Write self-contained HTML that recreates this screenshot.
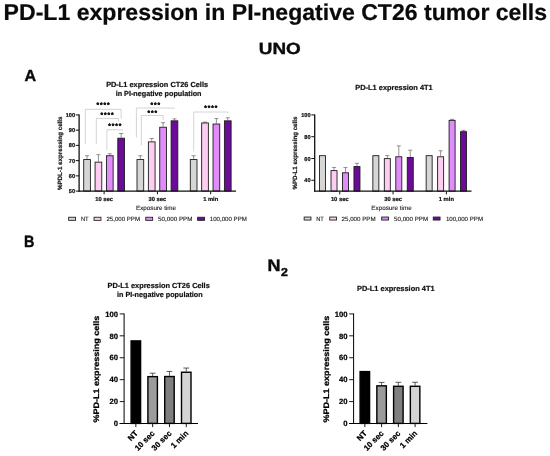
<!DOCTYPE html>
<html lang="en">
<head>
<meta charset="utf-8">
<title>PD-L1 expression in PI-negative CT26 tumor cells</title>
<style>
html,body{margin:0;padding:0;background:#fff;}
body{width:550px;height:456px;overflow:hidden;}
svg{display:block;font-family:"Liberation Sans", Arial, Helvetica, sans-serif;filter:blur(0.3px);text-rendering:geometricPrecision;}
</style>
</head>
<body>
<svg width="550" height="456" viewBox="0 0 550 456">
<rect x="0" y="0" width="550" height="456" fill="#ffffff"/>
<text x="3.6" y="20.4" font-size="22.9" font-weight="bold" text-anchor="start" fill="#0a0a0a" textLength="543.5" lengthAdjust="spacingAndGlyphs" stroke="#0a0a0a" stroke-width="0.22">PD-L1 expression in PI-negative CT26 tumor cells</text>
<text x="279.8" y="54" font-size="16.2" font-weight="bold" text-anchor="middle" fill="#0a0a0a" textLength="42.0" lengthAdjust="spacingAndGlyphs" stroke="#0a0a0a" stroke-width="0.35">UNO</text>
<text x="24.4" y="81" font-size="16" font-weight="bold" text-anchor="start" fill="#0a0a0a" textLength="11.6" lengthAdjust="spacingAndGlyphs" stroke="#0a0a0a" stroke-width="0.4">A</text>
<text x="24.0" y="247" font-size="16.4" font-weight="bold" text-anchor="start" fill="#0a0a0a" textLength="10.4" lengthAdjust="spacingAndGlyphs" stroke="#0a0a0a" stroke-width="0.4">B</text>
<text x="267.6" y="270.9" font-size="16.9" font-weight="bold" fill="#0a0a0a" stroke="#0a0a0a" stroke-width="0.4" textLength="20.3" lengthAdjust="spacingAndGlyphs">N<tspan font-size="11.6" dy="4.9" dx="0.4">2</tspan></text>
<g id="cA1">
<polyline points="85.3,144 85.3,109.3 121.2,109.3 121.2,118.8" fill="none" stroke="#bcbcbc" stroke-width="0.65"/>
<polyline points="96.3,144 96.3,118.5 118.5,118.5 118.5,121.6" fill="none" stroke="#bcbcbc" stroke-width="0.65"/>
<polyline points="106.9,150 106.9,129.8 122.6,129.8 122.6,130.5" fill="none" stroke="#bcbcbc" stroke-width="0.65"/>
<polyline points="136.4,137.5 136.4,108 174.1,108 174.1,109" fill="none" stroke="#bcbcbc" stroke-width="0.65"/>
<polyline points="141.3,145.4 141.3,115.5 163.2,115.5 163.2,120" fill="none" stroke="#bcbcbc" stroke-width="0.65"/>
<polyline points="193.7,151.5 193.7,112 227.9,112 227.9,113.2" fill="none" stroke="#bcbcbc" stroke-width="0.65"/>
<line x1="87.05" y1="159.10" x2="87.05" y2="155.74" stroke="#5a5a5a" stroke-width="0.65" />
<line x1="85.00" y1="155.74" x2="89.10" y2="155.74" stroke="#5a5a5a" stroke-width="0.65" />
<rect x="83.70" y="159.55" width="6.70" height="31.50" fill="#d6d6d6" stroke="#1c1c1c" stroke-width="0.9"/>
<line x1="98.42" y1="161.69" x2="98.42" y2="154.68" stroke="#5a5a5a" stroke-width="0.65" />
<line x1="96.37" y1="154.68" x2="100.47" y2="154.68" stroke="#5a5a5a" stroke-width="0.65" />
<rect x="95.07" y="162.14" width="6.70" height="28.91" fill="#fdcdf2" stroke="#1c1c1c" stroke-width="0.9"/>
<line x1="109.79" y1="155.29" x2="109.79" y2="153.76" stroke="#5a5a5a" stroke-width="0.65" />
<line x1="107.74" y1="153.76" x2="111.84" y2="153.76" stroke="#5a5a5a" stroke-width="0.65" />
<rect x="106.44" y="155.74" width="6.70" height="35.31" fill="#e08df9" stroke="#1c1c1c" stroke-width="0.9"/>
<line x1="121.16" y1="137.76" x2="121.16" y2="133.49" stroke="#5a5a5a" stroke-width="0.65" />
<line x1="119.11" y1="133.49" x2="123.21" y2="133.49" stroke="#5a5a5a" stroke-width="0.65" />
<rect x="117.81" y="138.21" width="6.70" height="52.84" fill="#6c0a99" stroke="#1c1c1c" stroke-width="0.9"/>
<line x1="140.35" y1="159.10" x2="140.35" y2="155.74" stroke="#5a5a5a" stroke-width="0.65" />
<line x1="138.30" y1="155.74" x2="142.40" y2="155.74" stroke="#5a5a5a" stroke-width="0.65" />
<rect x="137.00" y="159.55" width="6.70" height="31.50" fill="#d6d6d6" stroke="#1c1c1c" stroke-width="0.9"/>
<line x1="151.72" y1="141.42" x2="151.72" y2="138.52" stroke="#5a5a5a" stroke-width="0.65" />
<line x1="149.67" y1="138.52" x2="153.77" y2="138.52" stroke="#5a5a5a" stroke-width="0.65" />
<rect x="148.37" y="141.87" width="6.70" height="49.18" fill="#fdcdf2" stroke="#1c1c1c" stroke-width="0.9"/>
<line x1="163.09" y1="126.79" x2="163.09" y2="122.67" stroke="#5a5a5a" stroke-width="0.65" />
<line x1="161.04" y1="122.67" x2="165.14" y2="122.67" stroke="#5a5a5a" stroke-width="0.65" />
<rect x="159.74" y="127.24" width="6.70" height="63.81" fill="#e08df9" stroke="#1c1c1c" stroke-width="0.9"/>
<line x1="174.46" y1="120.39" x2="174.46" y2="118.86" stroke="#5a5a5a" stroke-width="0.65" />
<line x1="172.41" y1="118.86" x2="176.51" y2="118.86" stroke="#5a5a5a" stroke-width="0.65" />
<rect x="171.11" y="120.84" width="6.70" height="70.21" fill="#6c0a99" stroke="#1c1c1c" stroke-width="0.9"/>
<line x1="193.65" y1="159.10" x2="193.65" y2="155.74" stroke="#5a5a5a" stroke-width="0.65" />
<line x1="191.60" y1="155.74" x2="195.70" y2="155.74" stroke="#5a5a5a" stroke-width="0.65" />
<rect x="190.30" y="159.55" width="6.70" height="31.50" fill="#d6d6d6" stroke="#1c1c1c" stroke-width="0.9"/>
<line x1="205.02" y1="122.52" x2="205.02" y2="122.14" stroke="#5a5a5a" stroke-width="0.65" />
<line x1="202.97" y1="122.14" x2="207.07" y2="122.14" stroke="#5a5a5a" stroke-width="0.65" />
<rect x="201.67" y="122.97" width="6.70" height="68.08" fill="#fdcdf2" stroke="#1c1c1c" stroke-width="0.9"/>
<line x1="216.39" y1="123.59" x2="216.39" y2="118.56" stroke="#5a5a5a" stroke-width="0.65" />
<line x1="214.34" y1="118.56" x2="218.44" y2="118.56" stroke="#5a5a5a" stroke-width="0.65" />
<rect x="213.04" y="124.04" width="6.70" height="67.01" fill="#e08df9" stroke="#1c1c1c" stroke-width="0.9"/>
<line x1="227.76" y1="120.39" x2="227.76" y2="117.80" stroke="#5a5a5a" stroke-width="0.65" />
<line x1="225.71" y1="117.80" x2="229.81" y2="117.80" stroke="#5a5a5a" stroke-width="0.65" />
<rect x="224.41" y="120.84" width="6.70" height="70.21" fill="#6c0a99" stroke="#1c1c1c" stroke-width="0.9"/>
<line x1="79.1" y1="114.4" x2="79.1" y2="191.7" stroke="#111" stroke-width="1.3" />
<line x1="78.5" y1="191.1" x2="236.06" y2="191.1" stroke="#111" stroke-width="1.3" />
<line x1="75.69999999999999" y1="191.10" x2="79.1" y2="191.10" stroke="#111" stroke-width="1.0" />
<text x="75.0" y="193.10" font-size="5.6" font-weight="bold" text-anchor="end" fill="#111" stroke="#111" stroke-width="0.22">50</text>
<line x1="75.69999999999999" y1="175.86" x2="79.1" y2="175.86" stroke="#111" stroke-width="1.0" />
<text x="75.0" y="177.86" font-size="5.6" font-weight="bold" text-anchor="end" fill="#111" stroke="#111" stroke-width="0.22">60</text>
<line x1="75.69999999999999" y1="160.62" x2="79.1" y2="160.62" stroke="#111" stroke-width="1.0" />
<text x="75.0" y="162.62" font-size="5.6" font-weight="bold" text-anchor="end" fill="#111" stroke="#111" stroke-width="0.22">70</text>
<line x1="75.69999999999999" y1="145.38" x2="79.1" y2="145.38" stroke="#111" stroke-width="1.0" />
<text x="75.0" y="147.38" font-size="5.6" font-weight="bold" text-anchor="end" fill="#111" stroke="#111" stroke-width="0.22">80</text>
<line x1="75.69999999999999" y1="130.14" x2="79.1" y2="130.14" stroke="#111" stroke-width="1.0" />
<text x="75.0" y="132.14" font-size="5.6" font-weight="bold" text-anchor="end" fill="#111" stroke="#111" stroke-width="0.22">90</text>
<line x1="75.69999999999999" y1="114.90" x2="79.1" y2="114.90" stroke="#111" stroke-width="1.0" />
<text x="75.0" y="116.90" font-size="5.6" font-weight="bold" text-anchor="end" fill="#111" stroke="#111" stroke-width="0.22">100</text>
<line x1="104.11" y1="191.1" x2="104.11" y2="194.29999999999998" stroke="#111" stroke-width="1.0" />
<text x="104.11" y="200.7" font-size="5.8" font-weight="bold" text-anchor="middle" fill="#111" stroke="#111" stroke-width="0.22">10 sec</text>
<line x1="157.41" y1="191.1" x2="157.41" y2="194.29999999999998" stroke="#111" stroke-width="1.0" />
<text x="157.41" y="200.7" font-size="5.8" font-weight="bold" text-anchor="middle" fill="#111" stroke="#111" stroke-width="0.22">30 sec</text>
<line x1="210.70" y1="191.1" x2="210.70" y2="194.29999999999998" stroke="#111" stroke-width="1.0" />
<text x="210.70" y="200.7" font-size="5.8" font-weight="bold" text-anchor="middle" fill="#111" stroke="#111" stroke-width="0.22">1 min</text>
<text x="103.45" y="107.45" font-size="6.6" font-weight="bold" text-anchor="middle" fill="#000" letter-spacing="0.93" stroke="#000" stroke-width="0.4" stroke-linejoin="round">****</text>
<text x="107.55" y="117.2" font-size="6.6" font-weight="bold" text-anchor="middle" fill="#000" letter-spacing="0.93" stroke="#000" stroke-width="0.4" stroke-linejoin="round">****</text>
<text x="115.25" y="128.2" font-size="6.6" font-weight="bold" text-anchor="middle" fill="#000" letter-spacing="0.93" stroke="#000" stroke-width="0.4" stroke-linejoin="round">****</text>
<text x="155.85" y="106.5" font-size="6.6" font-weight="bold" text-anchor="middle" fill="#000" letter-spacing="0.93" stroke="#000" stroke-width="0.4" stroke-linejoin="round">***</text>
<text x="152.85" y="114.7" font-size="6.6" font-weight="bold" text-anchor="middle" fill="#000" letter-spacing="0.93" stroke="#000" stroke-width="0.4" stroke-linejoin="round">***</text>
<text x="211.14999999999998" y="110.3" font-size="6.6" font-weight="bold" text-anchor="middle" fill="#000" letter-spacing="0.93" stroke="#000" stroke-width="0.4" stroke-linejoin="round">****</text>
<text x="157.1" y="87.2" font-size="7.35" font-weight="bold" text-anchor="middle" fill="#111" textLength="101.9" lengthAdjust="spacingAndGlyphs" stroke="#111" stroke-width="0.22">PD-L1 expression CT26 Cells</text>
<text x="158.6" y="95.9" font-size="7.35" font-weight="bold" text-anchor="middle" fill="#111" textLength="85.8" lengthAdjust="spacingAndGlyphs" stroke="#111" stroke-width="0.22">in PI-negative population</text>
<text transform="translate(62.0,190.1) rotate(-90)" font-size="6.2" font-weight="bold" fill="#111" stroke="#111" stroke-width="0.2" textLength="73.6" lengthAdjust="spacingAndGlyphs">%PDL-1 expressing cells</text>
<text x="156" y="209.7" font-size="6.25" font-weight="normal" text-anchor="middle" fill="#222" textLength="40" lengthAdjust="spacingAndGlyphs" stroke="#222" stroke-width="0.12">Exposure time</text>
<rect x="68.65" y="217.25" width="6.90" height="3.10" fill="#d6d6d6" stroke="#222" stroke-width="0.9"/>
<text x="80.9" y="220.8" font-size="6.1" font-weight="normal" text-anchor="start" fill="#222" textLength="7.8" lengthAdjust="spacingAndGlyphs" stroke="#222" stroke-width="0.12">NT</text>
<rect x="94.05" y="217.25" width="6.90" height="3.10" fill="#fdcdf2" stroke="#222" stroke-width="0.9"/>
<text x="106.4" y="220.8" font-size="6.1" font-weight="normal" text-anchor="start" fill="#222" textLength="33.6" lengthAdjust="spacingAndGlyphs" stroke="#222" stroke-width="0.12">25,000 PPM</text>
<rect x="145.75" y="217.25" width="6.90" height="3.10" fill="#e08df9" stroke="#222" stroke-width="0.9"/>
<text x="158.1" y="220.8" font-size="6.1" font-weight="normal" text-anchor="start" fill="#222" textLength="34.3" lengthAdjust="spacingAndGlyphs" stroke="#222" stroke-width="0.12">50,000 PPM</text>
<rect x="197.65" y="217.25" width="6.90" height="3.10" fill="#6c0a99" stroke="#222" stroke-width="0.9"/>
<text x="209.8" y="220.8" font-size="6.1" font-weight="normal" text-anchor="start" fill="#222" textLength="37.1" lengthAdjust="spacingAndGlyphs" stroke="#222" stroke-width="0.12">100,000 PPM</text>
</g>
<g id="cA2">
<rect x="319.55" y="155.68" width="6.00" height="35.47" fill="#d6d6d6" stroke="#1c1c1c" stroke-width="0.9"/>
<line x1="334.02" y1="170.16" x2="334.02" y2="167.44" stroke="#5a5a5a" stroke-width="0.65" />
<line x1="331.97" y1="167.44" x2="336.07" y2="167.44" stroke="#5a5a5a" stroke-width="0.65" />
<rect x="331.02" y="170.61" width="6.00" height="20.54" fill="#fdcdf2" stroke="#1c1c1c" stroke-width="0.9"/>
<line x1="345.49" y1="172.34" x2="345.49" y2="167.55" stroke="#5a5a5a" stroke-width="0.65" />
<line x1="343.44" y1="167.55" x2="347.54" y2="167.55" stroke="#5a5a5a" stroke-width="0.65" />
<rect x="342.49" y="172.79" width="6.00" height="18.36" fill="#e08df9" stroke="#1c1c1c" stroke-width="0.9"/>
<line x1="356.96" y1="166.13" x2="356.96" y2="163.30" stroke="#5a5a5a" stroke-width="0.65" />
<line x1="354.91" y1="163.30" x2="359.01" y2="163.30" stroke="#5a5a5a" stroke-width="0.65" />
<rect x="353.96" y="166.58" width="6.00" height="24.57" fill="#6c0a99" stroke="#1c1c1c" stroke-width="0.9"/>
<rect x="372.85" y="155.68" width="6.00" height="35.47" fill="#d6d6d6" stroke="#1c1c1c" stroke-width="0.9"/>
<line x1="387.32" y1="158.17" x2="387.32" y2="155.56" stroke="#5a5a5a" stroke-width="0.65" />
<line x1="385.27" y1="155.56" x2="389.37" y2="155.56" stroke="#5a5a5a" stroke-width="0.65" />
<rect x="384.32" y="158.62" width="6.00" height="32.53" fill="#fdcdf2" stroke="#1c1c1c" stroke-width="0.9"/>
<line x1="398.79" y1="156.32" x2="398.79" y2="145.86" stroke="#5a5a5a" stroke-width="0.65" />
<line x1="396.74" y1="145.86" x2="400.84" y2="145.86" stroke="#5a5a5a" stroke-width="0.65" />
<rect x="395.79" y="156.77" width="6.00" height="34.38" fill="#e08df9" stroke="#1c1c1c" stroke-width="0.9"/>
<line x1="410.26" y1="157.08" x2="410.26" y2="150.22" stroke="#5a5a5a" stroke-width="0.65" />
<line x1="408.21" y1="150.22" x2="412.31" y2="150.22" stroke="#5a5a5a" stroke-width="0.65" />
<rect x="407.26" y="157.53" width="6.00" height="33.62" fill="#6c0a99" stroke="#1c1c1c" stroke-width="0.9"/>
<rect x="426.15" y="155.68" width="6.00" height="35.47" fill="#d6d6d6" stroke="#1c1c1c" stroke-width="0.9"/>
<line x1="440.62" y1="156.32" x2="440.62" y2="150.76" stroke="#5a5a5a" stroke-width="0.65" />
<line x1="438.57" y1="150.76" x2="442.67" y2="150.76" stroke="#5a5a5a" stroke-width="0.65" />
<rect x="437.62" y="156.77" width="6.00" height="34.38" fill="#fdcdf2" stroke="#1c1c1c" stroke-width="0.9"/>
<line x1="452.09" y1="119.91" x2="452.09" y2="119.37" stroke="#5a5a5a" stroke-width="0.65" />
<line x1="450.04" y1="119.37" x2="454.14" y2="119.37" stroke="#5a5a5a" stroke-width="0.65" />
<rect x="449.09" y="120.36" width="6.00" height="70.79" fill="#e08df9" stroke="#1c1c1c" stroke-width="0.9"/>
<line x1="463.56" y1="131.25" x2="463.56" y2="130.38" stroke="#5a5a5a" stroke-width="0.65" />
<line x1="461.51" y1="130.38" x2="465.61" y2="130.38" stroke="#5a5a5a" stroke-width="0.65" />
<rect x="460.56" y="131.70" width="6.00" height="59.45" fill="#6c0a99" stroke="#1c1c1c" stroke-width="0.9"/>
<line x1="314.7" y1="114.4" x2="314.7" y2="191.79999999999998" stroke="#111" stroke-width="1.3" />
<line x1="314.09999999999997" y1="191.2" x2="471.51" y2="191.2" stroke="#111" stroke-width="1.3" />
<line x1="311.3" y1="180.30" x2="314.7" y2="180.30" stroke="#111" stroke-width="1.0" />
<text x="310.59999999999997" y="182.30" font-size="5.6" font-weight="bold" text-anchor="end" fill="#111" stroke="#111" stroke-width="0.22">40</text>
<line x1="311.3" y1="158.50" x2="314.7" y2="158.50" stroke="#111" stroke-width="1.0" />
<text x="310.59999999999997" y="160.50" font-size="5.6" font-weight="bold" text-anchor="end" fill="#111" stroke="#111" stroke-width="0.22">60</text>
<line x1="311.3" y1="136.70" x2="314.7" y2="136.70" stroke="#111" stroke-width="1.0" />
<text x="310.59999999999997" y="138.70" font-size="5.6" font-weight="bold" text-anchor="end" fill="#111" stroke="#111" stroke-width="0.22">80</text>
<line x1="311.3" y1="114.90" x2="314.7" y2="114.90" stroke="#111" stroke-width="1.0" />
<text x="310.59999999999997" y="116.90" font-size="5.6" font-weight="bold" text-anchor="end" fill="#111" stroke="#111" stroke-width="0.22">100</text>
<line x1="339.75" y1="191.2" x2="339.75" y2="194.39999999999998" stroke="#111" stroke-width="1.0" />
<text x="339.75" y="200.79999999999998" font-size="5.8" font-weight="bold" text-anchor="middle" fill="#111" stroke="#111" stroke-width="0.22">10 sec</text>
<line x1="393.06" y1="191.2" x2="393.06" y2="194.39999999999998" stroke="#111" stroke-width="1.0" />
<text x="393.06" y="200.79999999999998" font-size="5.8" font-weight="bold" text-anchor="middle" fill="#111" stroke="#111" stroke-width="0.22">30 sec</text>
<line x1="446.36" y1="191.2" x2="446.36" y2="194.39999999999998" stroke="#111" stroke-width="1.0" />
<text x="446.36" y="200.79999999999998" font-size="5.8" font-weight="bold" text-anchor="middle" fill="#111" stroke="#111" stroke-width="0.22">1 min</text>
<text x="394" y="90" font-size="7.35" font-weight="bold" text-anchor="middle" fill="#111" textLength="77.4" lengthAdjust="spacingAndGlyphs" stroke="#111" stroke-width="0.22">PD-L1 expression 4T1</text>
<text transform="translate(297.2,189.6) rotate(-90)" font-size="6.2" font-weight="bold" fill="#111" stroke="#111" stroke-width="0.2" textLength="73" lengthAdjust="spacingAndGlyphs">%PD-L1 expressing cells</text>
<text x="391.5" y="209.9" font-size="6.25" font-weight="normal" text-anchor="middle" fill="#222" textLength="40.3" lengthAdjust="spacingAndGlyphs" stroke="#222" stroke-width="0.12">Exposure time</text>
<rect x="304.15" y="217.05" width="6.80" height="3.00" fill="#d6d6d6" stroke="#222" stroke-width="0.9"/>
<text x="316.2" y="220.6" font-size="6.1" font-weight="normal" text-anchor="start" fill="#222" textLength="7.7" lengthAdjust="spacingAndGlyphs" stroke="#222" stroke-width="0.12">NT</text>
<rect x="329.75" y="217.05" width="6.80" height="3.00" fill="#fdcdf2" stroke="#222" stroke-width="0.9"/>
<text x="341.5" y="220.6" font-size="6.1" font-weight="normal" text-anchor="start" fill="#222" textLength="34.2" lengthAdjust="spacingAndGlyphs" stroke="#222" stroke-width="0.12">25,000 PPM</text>
<rect x="381.65" y="217.05" width="6.80" height="3.00" fill="#e08df9" stroke="#222" stroke-width="0.9"/>
<text x="394.1" y="220.6" font-size="6.1" font-weight="normal" text-anchor="start" fill="#222" textLength="34.0" lengthAdjust="spacingAndGlyphs" stroke="#222" stroke-width="0.12">50,000 PPM</text>
<rect x="433.25" y="217.05" width="6.80" height="3.00" fill="#6c0a99" stroke="#222" stroke-width="0.9"/>
<text x="445.9" y="220.6" font-size="6.1" font-weight="normal" text-anchor="start" fill="#222" textLength="37.1" lengthAdjust="spacingAndGlyphs" stroke="#222" stroke-width="0.12">100,000 PPM</text>
</g>
<g id="cB1">
<rect x="131.10" y="340.90" width="9.50" height="82.50" fill="#000000" stroke="#000" stroke-width="1.4"/>
<line x1="152.65" y1="375.93" x2="152.65" y2="373.19" stroke="#333" stroke-width="0.8" />
<line x1="149.75" y1="373.19" x2="155.55" y2="373.19" stroke="#333" stroke-width="0.8" />
<rect x="147.90" y="376.63" width="9.50" height="46.77" fill="#9b9b9b" stroke="#000" stroke-width="1.4"/>
<line x1="169.45" y1="375.82" x2="169.45" y2="371.44" stroke="#333" stroke-width="0.8" />
<line x1="166.55" y1="371.44" x2="172.35" y2="371.44" stroke="#333" stroke-width="0.8" />
<rect x="164.70" y="376.52" width="9.50" height="46.88" fill="#7f7f7f" stroke="#000" stroke-width="1.4"/>
<line x1="186.25" y1="371.55" x2="186.25" y2="368.04" stroke="#333" stroke-width="0.8" />
<line x1="183.35" y1="368.04" x2="189.15" y2="368.04" stroke="#333" stroke-width="0.8" />
<rect x="181.50" y="372.25" width="9.50" height="51.15" fill="#d4d4d4" stroke="#000" stroke-width="1.4"/>
<line x1="124.1" y1="313.5" x2="124.1" y2="424.0" stroke="#000" stroke-width="1.0" />
<line x1="119.69999999999999" y1="423.5" x2="198" y2="423.5" stroke="#000" stroke-width="1.0" />
<line x1="119.69999999999999" y1="423.50" x2="124.1" y2="423.50" stroke="#000" stroke-width="0.9" />
<text x="118.1" y="426.25" font-size="7.7" font-weight="bold" text-anchor="end" fill="#000" stroke="#000" stroke-width="0.22">0</text>
<line x1="119.69999999999999" y1="401.58" x2="124.1" y2="401.58" stroke="#000" stroke-width="0.9" />
<text x="118.1" y="404.33" font-size="7.7" font-weight="bold" text-anchor="end" fill="#000" stroke="#000" stroke-width="0.22">20</text>
<line x1="119.69999999999999" y1="379.66" x2="124.1" y2="379.66" stroke="#000" stroke-width="0.9" />
<text x="118.1" y="382.41" font-size="7.7" font-weight="bold" text-anchor="end" fill="#000" stroke="#000" stroke-width="0.22">40</text>
<line x1="119.69999999999999" y1="357.74" x2="124.1" y2="357.74" stroke="#000" stroke-width="0.9" />
<text x="118.1" y="360.49" font-size="7.7" font-weight="bold" text-anchor="end" fill="#000" stroke="#000" stroke-width="0.22">60</text>
<line x1="119.69999999999999" y1="335.82" x2="124.1" y2="335.82" stroke="#000" stroke-width="0.9" />
<text x="118.1" y="338.57" font-size="7.7" font-weight="bold" text-anchor="end" fill="#000" stroke="#000" stroke-width="0.22">80</text>
<line x1="119.69999999999999" y1="313.90" x2="124.1" y2="313.90" stroke="#000" stroke-width="0.9" />
<text x="118.1" y="316.65" font-size="7.7" font-weight="bold" text-anchor="end" fill="#000" stroke="#000" stroke-width="0.22">100</text>
<line x1="135.85" y1="423.5" x2="135.85" y2="427.1" stroke="#000" stroke-width="0.9" />
<text transform="translate(138.45,433.90) rotate(-45)" font-size="8.0" font-weight="bold" text-anchor="end" fill="#000" stroke="#000" stroke-width="0.25">NT</text>
<line x1="152.65" y1="423.5" x2="152.65" y2="427.1" stroke="#000" stroke-width="0.9" />
<text transform="translate(155.25,433.90) rotate(-45)" font-size="8.0" font-weight="bold" text-anchor="end" fill="#000" stroke="#000" stroke-width="0.25">10 sec</text>
<line x1="169.45" y1="423.5" x2="169.45" y2="427.1" stroke="#000" stroke-width="0.9" />
<text transform="translate(172.05,433.90) rotate(-45)" font-size="8.0" font-weight="bold" text-anchor="end" fill="#000" stroke="#000" stroke-width="0.25">30 sec</text>
<line x1="186.25" y1="423.5" x2="186.25" y2="427.1" stroke="#000" stroke-width="0.9" />
<text transform="translate(188.85,433.90) rotate(-45)" font-size="8.0" font-weight="bold" text-anchor="end" fill="#000" stroke="#000" stroke-width="0.25">1 min</text>
<text transform="translate(99.3,422.6) rotate(-90)" font-size="8.0" font-weight="bold" fill="#000" stroke="#000" stroke-width="0.25" textLength="107" lengthAdjust="spacingAndGlyphs">%PD-L1 expressing cells</text>
<text x="158.7" y="287.7" font-size="7.35" font-weight="bold" text-anchor="middle" fill="#111" textLength="102.2" lengthAdjust="spacingAndGlyphs" stroke="#111" stroke-width="0.22">PD-L1 expression CT26 Cells</text>
<text x="159.8" y="296.8" font-size="7.35" font-weight="bold" text-anchor="middle" fill="#111" textLength="85.6" lengthAdjust="spacingAndGlyphs" stroke="#111" stroke-width="0.22">in PI-negative population</text>
</g>
<g id="cB2">
<rect x="360.10" y="371.59" width="9.50" height="51.81" fill="#000000" stroke="#000" stroke-width="1.4"/>
<line x1="381.60" y1="385.14" x2="381.60" y2="382.40" stroke="#333" stroke-width="0.8" />
<line x1="378.70" y1="382.40" x2="384.50" y2="382.40" stroke="#333" stroke-width="0.8" />
<rect x="376.85" y="385.84" width="9.50" height="37.56" fill="#9b9b9b" stroke="#000" stroke-width="1.4"/>
<line x1="398.35" y1="385.58" x2="398.35" y2="382.29" stroke="#333" stroke-width="0.8" />
<line x1="395.45" y1="382.29" x2="401.25" y2="382.29" stroke="#333" stroke-width="0.8" />
<rect x="393.60" y="386.28" width="9.50" height="37.12" fill="#7f7f7f" stroke="#000" stroke-width="1.4"/>
<line x1="415.10" y1="385.58" x2="415.10" y2="382.29" stroke="#333" stroke-width="0.8" />
<line x1="412.20" y1="382.29" x2="418.00" y2="382.29" stroke="#333" stroke-width="0.8" />
<rect x="410.35" y="386.28" width="9.50" height="37.12" fill="#d4d4d4" stroke="#000" stroke-width="1.4"/>
<line x1="353.6" y1="313.5" x2="353.6" y2="424.0" stroke="#000" stroke-width="1.0" />
<line x1="349.20000000000005" y1="423.5" x2="427.4" y2="423.5" stroke="#000" stroke-width="1.0" />
<line x1="349.20000000000005" y1="423.50" x2="353.6" y2="423.50" stroke="#000" stroke-width="0.9" />
<text x="347.6" y="426.25" font-size="7.7" font-weight="bold" text-anchor="end" fill="#000" stroke="#000" stroke-width="0.22">0</text>
<line x1="349.20000000000005" y1="401.58" x2="353.6" y2="401.58" stroke="#000" stroke-width="0.9" />
<text x="347.6" y="404.33" font-size="7.7" font-weight="bold" text-anchor="end" fill="#000" stroke="#000" stroke-width="0.22">20</text>
<line x1="349.20000000000005" y1="379.66" x2="353.6" y2="379.66" stroke="#000" stroke-width="0.9" />
<text x="347.6" y="382.41" font-size="7.7" font-weight="bold" text-anchor="end" fill="#000" stroke="#000" stroke-width="0.22">40</text>
<line x1="349.20000000000005" y1="357.74" x2="353.6" y2="357.74" stroke="#000" stroke-width="0.9" />
<text x="347.6" y="360.49" font-size="7.7" font-weight="bold" text-anchor="end" fill="#000" stroke="#000" stroke-width="0.22">60</text>
<line x1="349.20000000000005" y1="335.82" x2="353.6" y2="335.82" stroke="#000" stroke-width="0.9" />
<text x="347.6" y="338.57" font-size="7.7" font-weight="bold" text-anchor="end" fill="#000" stroke="#000" stroke-width="0.22">80</text>
<line x1="349.20000000000005" y1="313.90" x2="353.6" y2="313.90" stroke="#000" stroke-width="0.9" />
<text x="347.6" y="316.65" font-size="7.7" font-weight="bold" text-anchor="end" fill="#000" stroke="#000" stroke-width="0.22">100</text>
<line x1="364.85" y1="423.5" x2="364.85" y2="427.1" stroke="#000" stroke-width="0.9" />
<text transform="translate(367.45,433.90) rotate(-45)" font-size="8.0" font-weight="bold" text-anchor="end" fill="#000" stroke="#000" stroke-width="0.25">NT</text>
<line x1="381.60" y1="423.5" x2="381.60" y2="427.1" stroke="#000" stroke-width="0.9" />
<text transform="translate(384.20,433.90) rotate(-45)" font-size="8.0" font-weight="bold" text-anchor="end" fill="#000" stroke="#000" stroke-width="0.25">10 sec</text>
<line x1="398.35" y1="423.5" x2="398.35" y2="427.1" stroke="#000" stroke-width="0.9" />
<text transform="translate(400.95,433.90) rotate(-45)" font-size="8.0" font-weight="bold" text-anchor="end" fill="#000" stroke="#000" stroke-width="0.25">30 sec</text>
<line x1="415.10" y1="423.5" x2="415.10" y2="427.1" stroke="#000" stroke-width="0.9" />
<text transform="translate(417.70,433.90) rotate(-45)" font-size="8.0" font-weight="bold" text-anchor="end" fill="#000" stroke="#000" stroke-width="0.25">1 min</text>
<text transform="translate(329.0,422.6) rotate(-90)" font-size="8.0" font-weight="bold" fill="#000" stroke="#000" stroke-width="0.25" textLength="107" lengthAdjust="spacingAndGlyphs">%PD-L1 expressing cells</text>
<text x="395.8" y="290.7" font-size="7.35" font-weight="bold" text-anchor="middle" fill="#111" textLength="77.5" lengthAdjust="spacingAndGlyphs" stroke="#111" stroke-width="0.22">PD-L1 expression 4T1</text>
</g>
</svg>
</body>
</html>
